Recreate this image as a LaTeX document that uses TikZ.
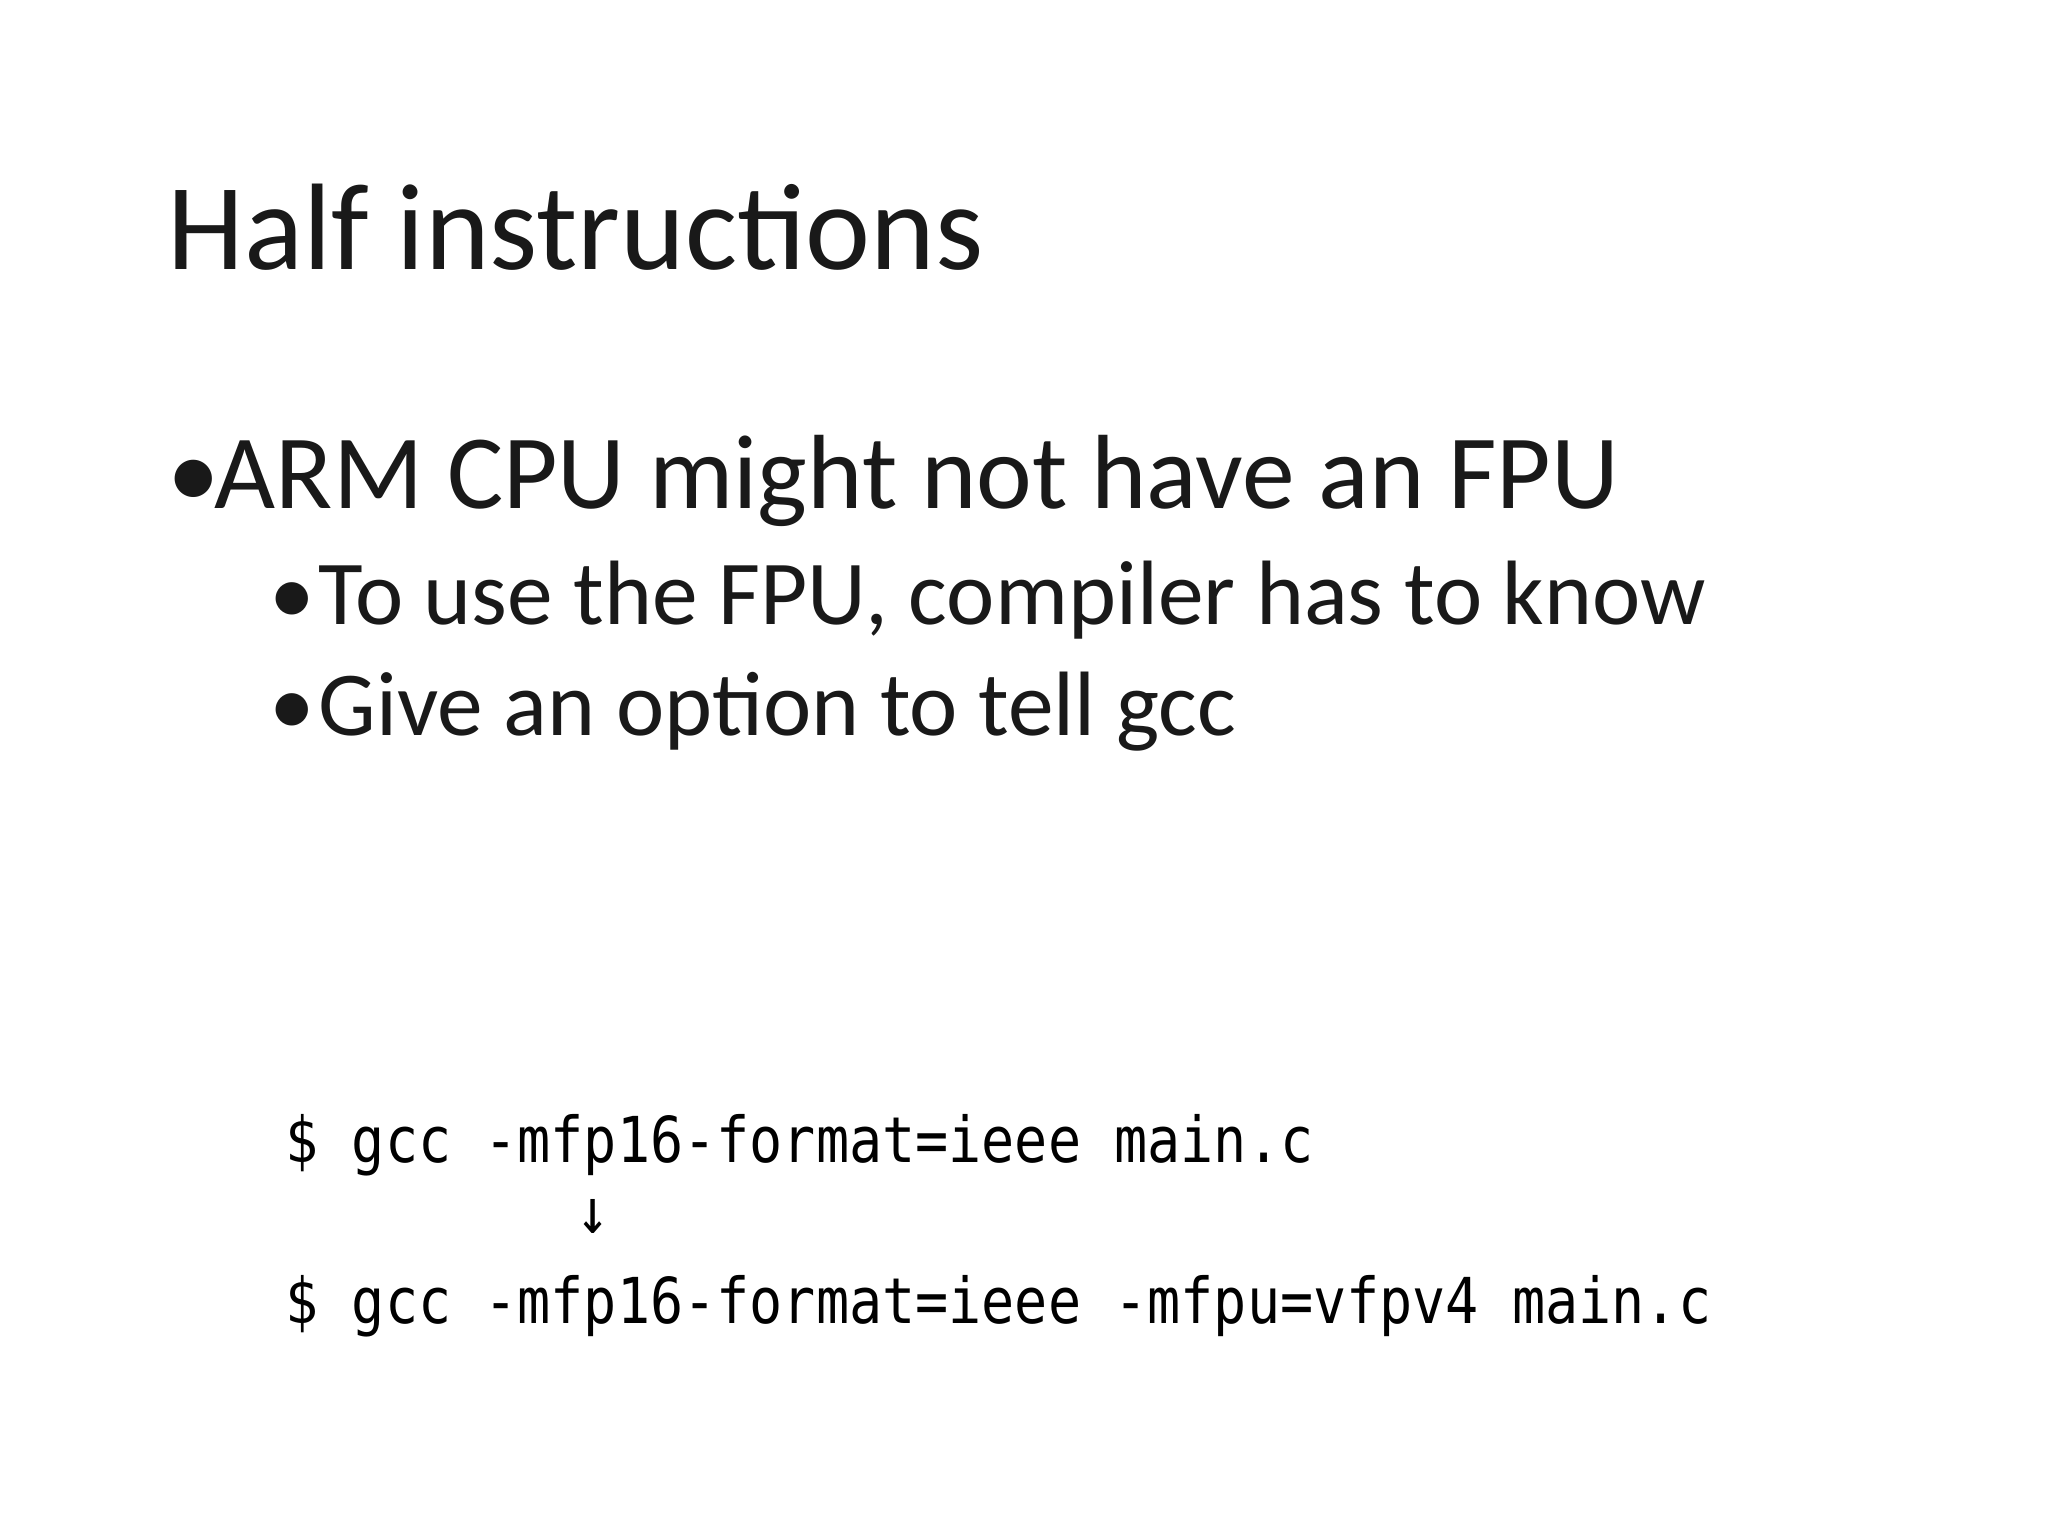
\documentclass[tikz,border=0pt]{standalone}
\usepackage{fontspec}
\setmainfont{Carlito}
\newfontfamily\codefont{DejaVu Sans Mono}
\begin{document}
\begin{tikzpicture}[x=0.01cm,y=-0.01cm,
  txt/.style={anchor=base west,inner sep=0pt,text=black!90},
  code/.style={anchor=base west,inner sep=0pt,font=\codefont\fontsize{18}{20}\selectfont,xscale=0.87}]
\useasboundingbox[fill=white] (0,0) rectangle (2048,1536);
\node[txt,font=\fontsize{35}{40}\selectfont] (title) at (167,269) {Half instructions};
\node[txt,font=\fontsize{30}{36}\selectfont] (b1) at (167,508) {•};
\node[txt,font=\fontsize{30}{36}\selectfont] (t1) at (214,508) {ARM CPU might not have an FPU};
\node[txt,font=\fontsize{26}{30}\selectfont] (b2) at (269,624) {•};
\node[txt,font=\fontsize{26}{30}\selectfont] (t2) at (318,624) {To use the FPU, compiler has to know};
\node[txt,font=\fontsize{26}{30}\selectfont] (b3) at (269,735) {•};
\node[txt,font=\fontsize{26}{30}\selectfont] (t3) at (318,735) {Give an option to tell gcc};
\node[code] (c1) at (285,1162) {\$ gcc -mfp16-format=ieee main.c};
\node[code,anchor=center] (arr) at (593,1216) {↓};
\node[code] (c2) at (285,1323) {\$ gcc -mfp16-format=ieee -mfpu=vfpv4 main.c};
\end{tikzpicture}
\end{document}
